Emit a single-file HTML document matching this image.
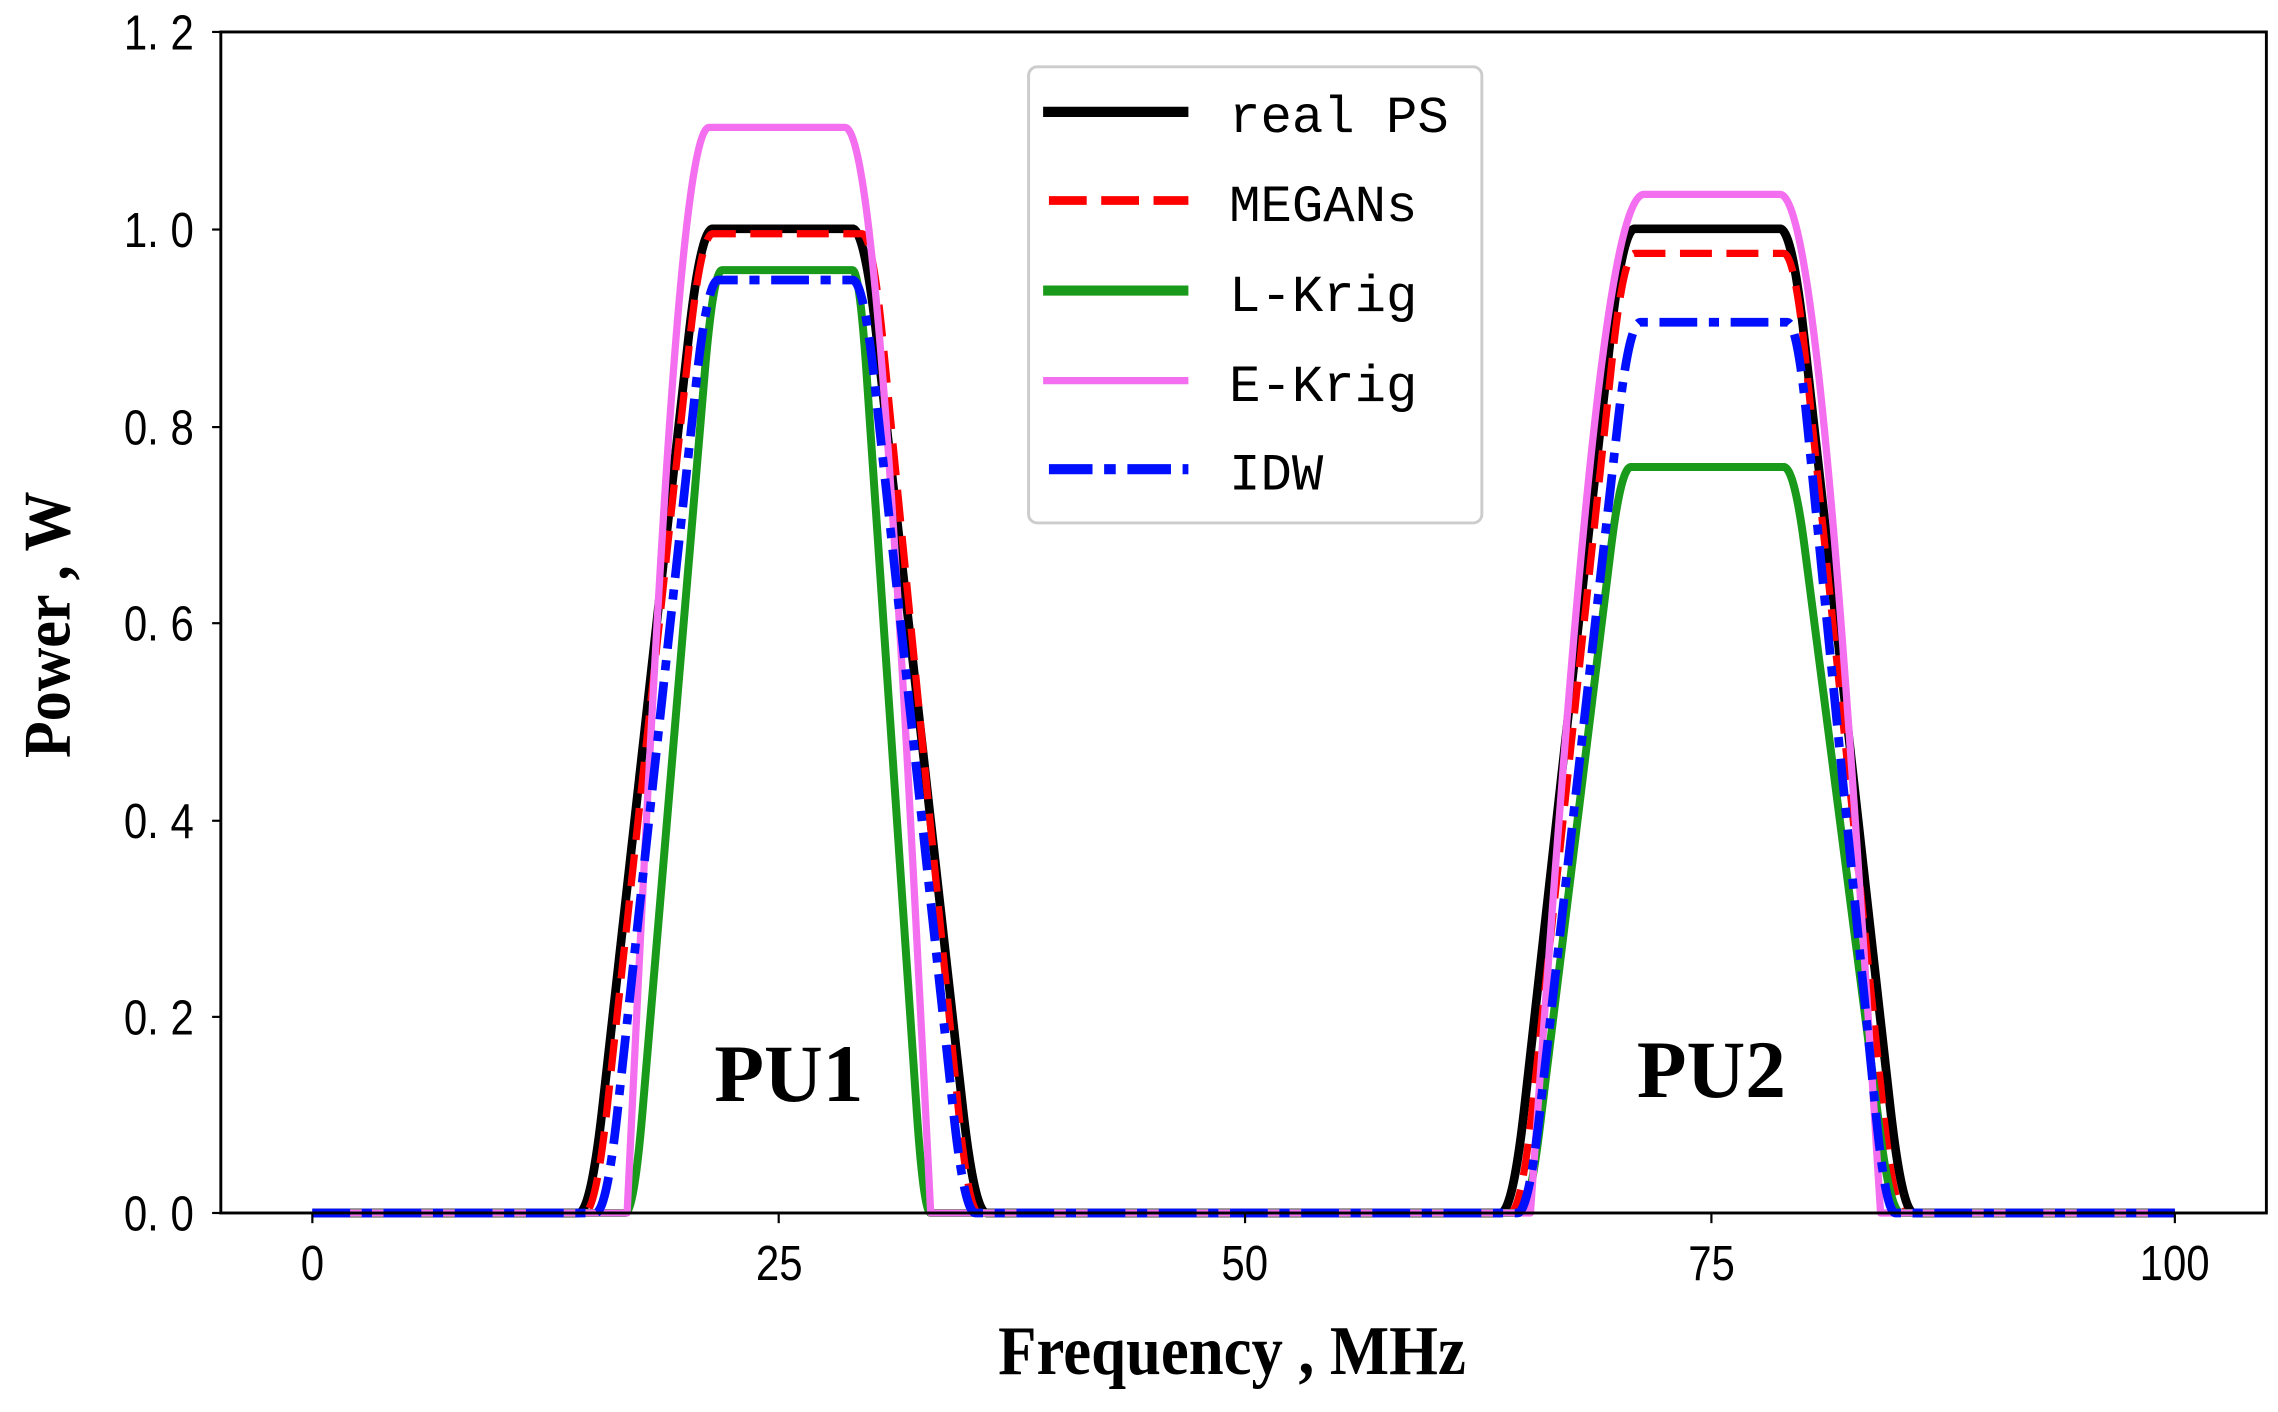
<!DOCTYPE html>
<html><head><meta charset="utf-8"><style>
html,body{margin:0;padding:0;background:#fff;}
svg{display:block;}
.t{font-family:"Liberation Sans",sans-serif;font-size:34px;fill:#000;}
.lg{font-family:"Liberation Mono",monospace;font-size:36px;fill:#000;}
.b{font-family:"Liberation Serif",serif;font-weight:bold;fill:#000;}
</style></head><body>
<svg id="s" width="2278" height="1412" viewBox="0 0 1568 972" preserveAspectRatio="none" xmlns="http://www.w3.org/2000/svg">
<rect width="1568" height="972" fill="#fff"/>
<g id="curves"></g>
<rect x="152" y="22" width="1408" height="813" fill="none" stroke="#000" stroke-width="2"/>
<g stroke="#000" stroke-width="1.5">
<line x1="146" y1="22" x2="152" y2="22"/><line x1="146" y1="158" x2="152" y2="158"/><line x1="146" y1="294" x2="152" y2="294"/><line x1="146" y1="429" x2="152" y2="429"/><line x1="146" y1="565" x2="152" y2="565"/><line x1="146" y1="700" x2="152" y2="700"/><line x1="146" y1="835" x2="152" y2="835"/>
<line x1="215" y1="835" x2="215" y2="842"/><line x1="536" y1="835" x2="536" y2="842"/><line x1="857" y1="835" x2="857" y2="842"/><line x1="1178" y1="835" x2="1178" y2="842"/><line x1="1497" y1="835" x2="1497" y2="842"/>
</g>
<g class="t" text-anchor="end" transform="scale(0.85,1)">
<text x="157" y="34">1. 2</text><text x="157" y="170">1. 0</text><text x="157" y="306">0. 8</text><text x="157" y="441">0. 6</text><text x="157" y="577">0. 4</text><text x="157" y="712">0. 2</text><text x="157" y="847">0. 0</text>
</g>
<g class="t" text-anchor="middle" transform="scale(0.85,1)">
<text x="253" y="881">0</text><text x="631" y="881">25</text><text x="1008" y="881">50</text><text x="1386" y="881">75</text><text x="1761" y="881">100</text>
</g>
<text class="b" x="0" y="0" font-size="48" text-anchor="middle" transform="translate(848,946) scale(0.9,1)">Frequency , MHz</text>
<text class="b" font-size="46" text-anchor="middle" transform="translate(48,430) rotate(-90) scale(0.9,1)">Power , W</text>
<text class="b" x="543" y="758" font-size="56" text-anchor="middle">PU1</text>
<text class="b" x="1178" y="755" font-size="56" text-anchor="middle">PU2</text>
<rect x="708" y="46" width="312" height="314" rx="6" fill="#fff" fill-opacity="0.85" stroke="#ccc" stroke-width="2"/>
<line x1="718" y1="77" x2="818" y2="77" stroke="#000" stroke-width="7"/>
<line x1="722" y1="138" x2="818" y2="138" stroke="#f00" stroke-width="6" stroke-dasharray="26,10"/>
<line x1="718" y1="200" x2="818" y2="200" stroke="#1a9a1a" stroke-width="7"/>
<line x1="718" y1="262" x2="818" y2="262" stroke="#f46ef0" stroke-width="5"/>
<line x1="722" y1="323" x2="818" y2="323" stroke="#0010ff" stroke-width="7" stroke-dasharray="30,8,8,8"/>
<g class="lg"><text x="846" y="91">real PS</text><text x="846" y="152">MEGANs</text><text x="846" y="214">L-Krig</text><text x="846" y="276">E-Krig</text><text x="846" y="337">IDW</text></g>
</svg>
<script>
function ramp(t){t=Math.max(0,Math.min(1,t));
 var r=0.18; if(t<r) return t*t/(2*r*(1-r)); if(t>1-r){var u=1-t;return 1-u*u/(2*r*(1-r));} return (t-r/2)/(1-r);}
function cramp(t){t=Math.max(0,Math.min(1,t));return Math.sin(t*Math.PI/2);}
function val(f,p,conc){var v=0;for(var i=0;i<p.length;i++){var q=p[i];var R=conc?cramp:ramp;
 var up=R((f-q[0])/(q[1]-q[0])),dn=R((q[3]-f)/(q[3]-q[2]));v+=q[4]*Math.min(up,dn);}return v;}
function path(p,conc){var d="";for(var f=0;f<=100.001;f+=0.05){var x=215+12.82*f,y=835-677.5*val(f,p,conc);d+=(d?"L":"M")+x.toFixed(2)+","+y.toFixed(2);}return d;}
var S=[
 {p:[[14.3,21.5,29,36.2,1.0],[63.8,71,78.8,86,1.0]],c:"#000",w:6,da:""},
 {p:[[14.6,21.5,29.5,35.8,0.995],[64.3,71,79,85.5,0.975]],c:"#f00",w:5,da:"22,10"},
 {p:[[16.8,22,29,33.2,0.958],[64.8,70.8,79,85.3,0.758]],c:"#1a9a1a",w:5.5,da:""},
 {p:[[16.9,21.3,28.6,33.2,1.103],[65.4,71.5,78.8,84.2,1.035]],c:"#f46ef0",w:5,da:"",conc:true},
 {p:[[15.2,21.8,29,35.6,0.948],[64.7,71.3,79.2,85,0.905]],c:"#0010ff",w:6,da:"26,8,7,8"}
];
var g=document.getElementById("curves"),ns="http://www.w3.org/2000/svg";
S.forEach(function(s){var e=document.createElementNS(ns,"path");e.setAttribute("d",path(s.p,s.conc));e.setAttribute("fill","none");e.setAttribute("stroke",s.c);e.setAttribute("stroke-width",s.w);e.setAttribute("stroke-linejoin","round");if(s.da)e.setAttribute("stroke-dasharray",s.da);g.appendChild(e);});
</script>
</body></html>
